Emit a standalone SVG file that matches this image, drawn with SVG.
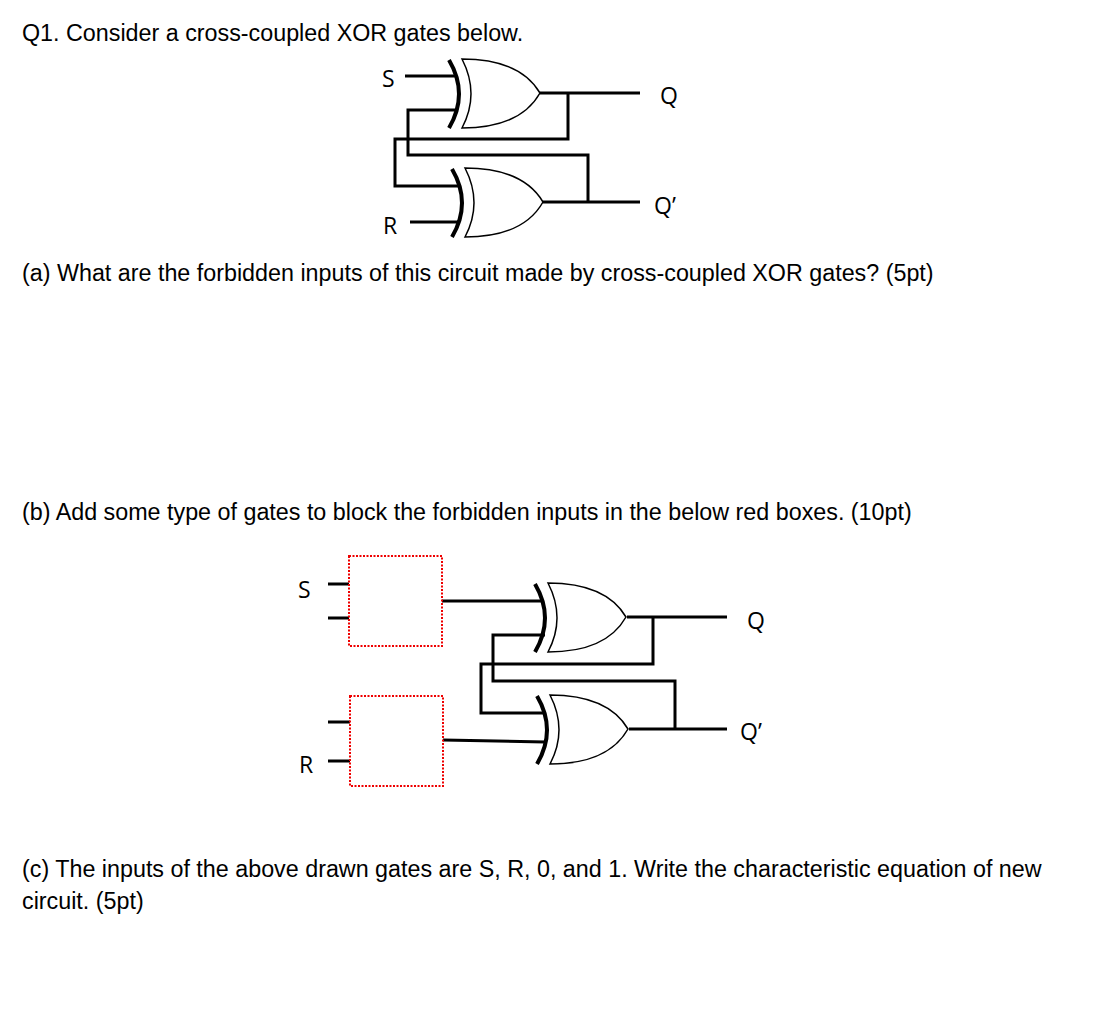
<svg xmlns="http://www.w3.org/2000/svg" width="1093" height="1011" viewBox="0 0 1093 1011">
<style>
.t{font-family:"Liberation Sans",Arial,sans-serif;font-size:23.3px;fill:#000}
.l{font-family:"Open Sans","Noto Sans",sans-serif;font-size:23px;fill:#000}
.w{fill:none;stroke:#000;stroke-width:3}
.body{fill:#fff;stroke:#000;stroke-width:1.5}
.back{fill:none;stroke:#000;stroke-width:4}
.box{fill:none;stroke:#e00;stroke-width:2;stroke-dasharray:2 1.5}
</style>
<defs>
<g id="xor">
<path class="back" d="M-13,1 Q7,35 -13,69"/>
<path class="body" d="M0,0 C40,0 65,12 78,34 C65,57 40,69 0,69 Q18,35 0,0 Z"/>
</g>
</defs>
<rect width="1093" height="1011" fill="#fff"/>
<text class="t" x="22" y="41">Q1. Consider a cross-coupled XOR gates below.</text>
<text class="t" x="22" y="281">(a) What are the forbidden inputs of this circuit made by cross-coupled XOR gates? (5pt)</text>
<text class="t" x="22" y="520">(b) Add some type of gates to block the forbidden inputs in the below red boxes. (10pt)</text>
<text class="t" x="22" y="877">(c) The inputs of the above drawn gates are S, R, 0, and 1. Write the characteristic equation of new</text>
<text class="t" x="22" y="909">circuit. (5pt)</text>
<g id="connectors">
<path class="w" d="M405,76H455 M540,93H640 M568,93V139H395V186H458 M458,110H408V155H588V202 M543,202H640 M410,222H458"/>
<path class="w" d="M328,584H349 M328,618H349 M328,722H350 M328,761H350 M442,601H543 M627,617H727 M653,617V664H481V713H545 M545,635H493V681H675V729 M629,729H727 M443,740L545,742"/>
</g>
<g id="gate1"><use href="#xor" x="462" y="59"/></g>
<g id="gate2"><use href="#xor" x="465" y="168"/></g>
<g id="gate3"><use href="#xor" x="548" y="583"/></g>
<g id="gate4"><use href="#xor" x="550" y="695"/></g>
<g id="box1"><rect class="box" x="349" y="556" width="93" height="90"/></g>
<g id="box2"><rect class="box" x="350" y="696" width="93" height="90"/></g>
<text class="l" x="382" y="87">S</text>
<text class="l" x="660" y="104">Q</text>
<text class="l" x="654" y="214">Q’</text>
<text class="l" x="383" y="234">R</text>
<text class="l" x="298" y="598">S</text>
<text class="l" x="299" y="773">R</text>
<text class="l" x="747" y="629">Q</text>
<text class="l" x="740" y="740">Q’</text>
</svg>
